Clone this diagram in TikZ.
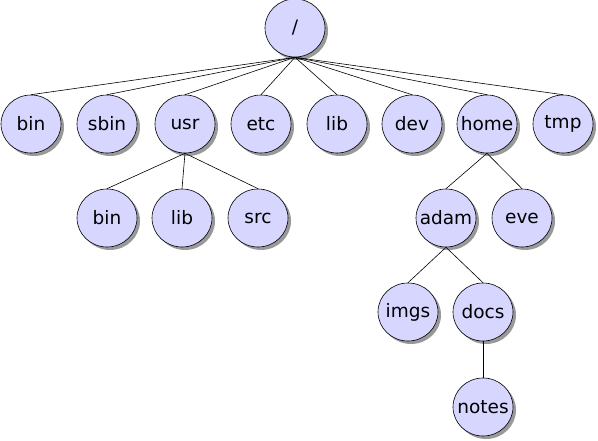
\documentclass[tikz,border=0pt]{standalone}
\usepackage{fontspec}
\setmainfont{DejaVu Sans}
\usetikzlibrary{shapes.geometric,shadows}
\definecolor{nodefill}{RGB}{214,214,255}
\begin{document}
\begin{tikzpicture}[x=1pt,y=-1pt,
  dir/.style={ellipse,draw=black,line width=0.6pt,fill=nodefill,minimum width=60pt,minimum height=58pt,inner xsep=-8pt,inner ysep=0pt,
    font=\fontsize{18.5}{20}\selectfont,
    drop shadow={shadow xshift=3pt,shadow yshift=-3pt,fill=black!40,opacity=1}},
  edge/.style={line width=0.6pt,black}]
\useasboundingbox (0,0) rectangle (598,441);
\node[dir] (root) at (295,28) {/};
\node[dir] (bin) at (31,124) {bin};
\node[dir] (sbin) at (107,124) {sbin};
\node[dir] (usr) at (185,124) {usr};
\node[dir] (etc) at (261,124) {etc};
\node[dir] (lib) at (337,124) {lib};
\node[dir] (dev) at (412,124) {dev};
\node[dir] (home) at (487,124) {home};
\node[dir] (tmp) at (563,124) {tmp};
\node[dir] (ubin) at (107,218) {bin};
\node[dir] (ulib) at (182,218) {lib};
\node[dir] (src) at (258,218) {src};
\node[dir] (adam) at (446,218) {adam};
\node[dir] (eve) at (522,218) {eve};
\node[dir] (imgs) at (408,312) {imgs};
\node[dir] (docs) at (483,312) {docs};
\node[dir] (notes) at (483,407) {notes};
\foreach \c in {bin,sbin,usr,etc,lib,dev,home,tmp}
  \draw[edge] (root.south) -- (\c.north);
\foreach \c in {ubin,ulib,src}
  \draw[edge] (usr.south) -- (\c.north);
\foreach \c in {adam,eve}
  \draw[edge] (home.south) -- (\c.north);
\foreach \c in {imgs,docs}
  \draw[edge] (adam.south) -- (\c.north);
\draw[edge] (docs.south) -- (notes.north);
\end{tikzpicture}
\end{document}
